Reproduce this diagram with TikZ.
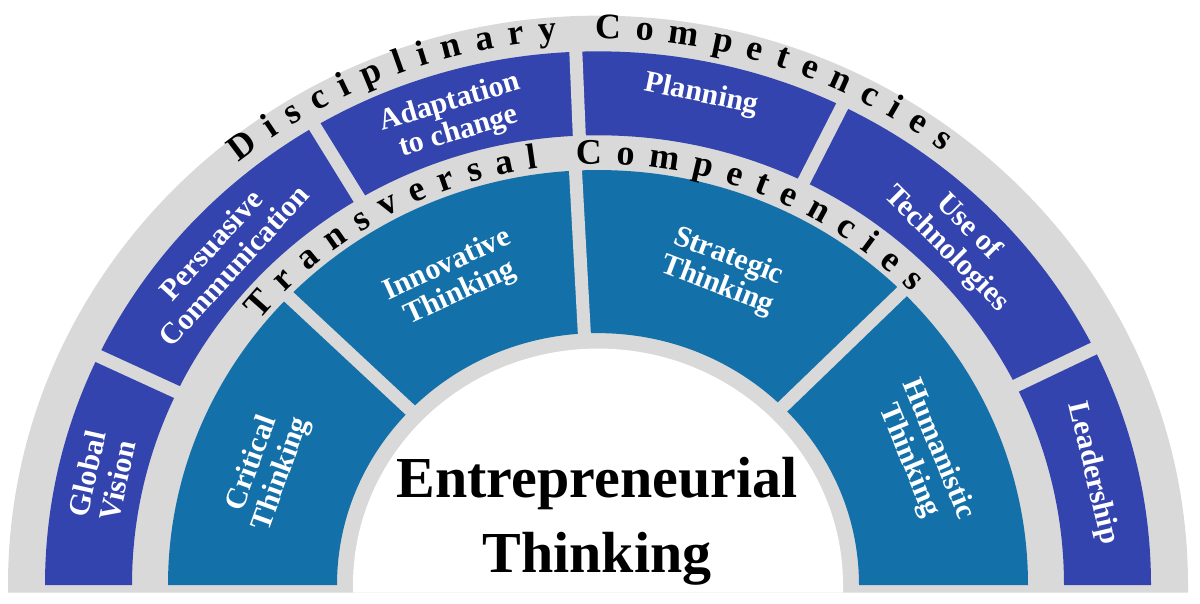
\documentclass[tikz,border=0pt]{standalone}
\usepackage{fontspec}
\setmainfont{Liberation Serif}
\usetikzlibrary{decorations.text}
\definecolor{dblue}{HTML}{3444AE}
\definecolor{teal2}{HTML}{1370A9}
\definecolor{lgray}{HTML}{D9D9D9}
\tikzset{
  lbl/.style={text=white,font=\bfseries\fontsize{30}{31}\selectfont,align=center,inner sep=0pt},
  gapline/.style={lgray,line width=13pt},
}
\begin{document}
\begin{tikzpicture}[x=1pt,y=1pt]
\useasboundingbox (0,0) rectangle (1200,603);
\begin{scope}[shift={(598,18)},yscale=0.965]
\fill[lgray] (-590,-8) -- (-590,0) arc[start angle=180,end angle=0,radius=590] -- (590,-8) -- cycle;
\fill[white] (-245,-8) -- (-245,0) arc[start angle=180,end angle=0,radius=245] -- (245,-8) -- cycle;
% outer ring
\fill[dblue] (0:466) arc[start angle=0,end angle=180,radius=466] -- (180:553) arc[start angle=180,end angle=0,radius=553] -- cycle;
% inner ring
\fill[teal2] (0:261) arc[start angle=0,end angle=180,radius=261] -- (180:430) arc[start angle=180,end angle=0,radius=430] -- cycle;
% gaps
\foreach \a in {154.6,120.8,92.3,63.8,26.3}{\draw[gapline] (\a:450) -- (\a:575);}
\foreach \a in {136,93,45}{\draw[gapline] (\a:250) -- (\a:445);}
% labels outer
\node[lbl,rotate=77.3] (gv) at (167.3:508) {Global\\Vision};
\node[lbl,rotate=47.7] (pc) at (137.7:508) {Persuasive\\Communication};
\node[lbl,rotate=16.5] (ac) at (106.5:505) {Adaptation\\to change};
\node[lbl,rotate=-11.5] (pl) at (78.5:518) {Planning};
\node[lbl,rotate=-45] (ut) at (45:508) {Use of\\Technologies};
\node[lbl,rotate=-76.8] (ld) at (13.2:508) {Leadership};
% labels inner
\node[lbl,rotate=70] (ct) at (160:352) {Critical\\Thinking};
\node[lbl,rotate=24.5] (it) at (114.5:348) {Innovative\\Thinking};
\node[lbl,rotate=-21] (st) at (69:348) {Strategic\\Thinking};
\node[lbl,rotate=-67.5] (ht) at (22.5:352) {Humanistic\\Thinking};
% curved titles
\path[decorate,decoration={text along path,text align=fit to path,
  text={|\bfseries\fontsize{36}{36}\selectfont|Disciplinary Competencies}}]
  (129.4:566) arc[start angle=129.4,end angle=52.5,radius=566];
\path[decorate,decoration={text along path,text align=fit to path,
  text={|\bfseries\fontsize{36}{36}\selectfont|Transversal Competencies}}]
  (141:436) arc[start angle=141,end angle=44,radius=436];
\end{scope}
\node[font=\bfseries\fontsize{58}{75}\selectfont,align=center,inner sep=0pt,anchor=base] (et) at (597,106) {Entrepreneurial};
\node[font=\bfseries\fontsize{58}{75}\selectfont,align=center,inner sep=0pt,anchor=base] (et2) at (597,31) {Thinking};
\end{tikzpicture}
\end{document}
